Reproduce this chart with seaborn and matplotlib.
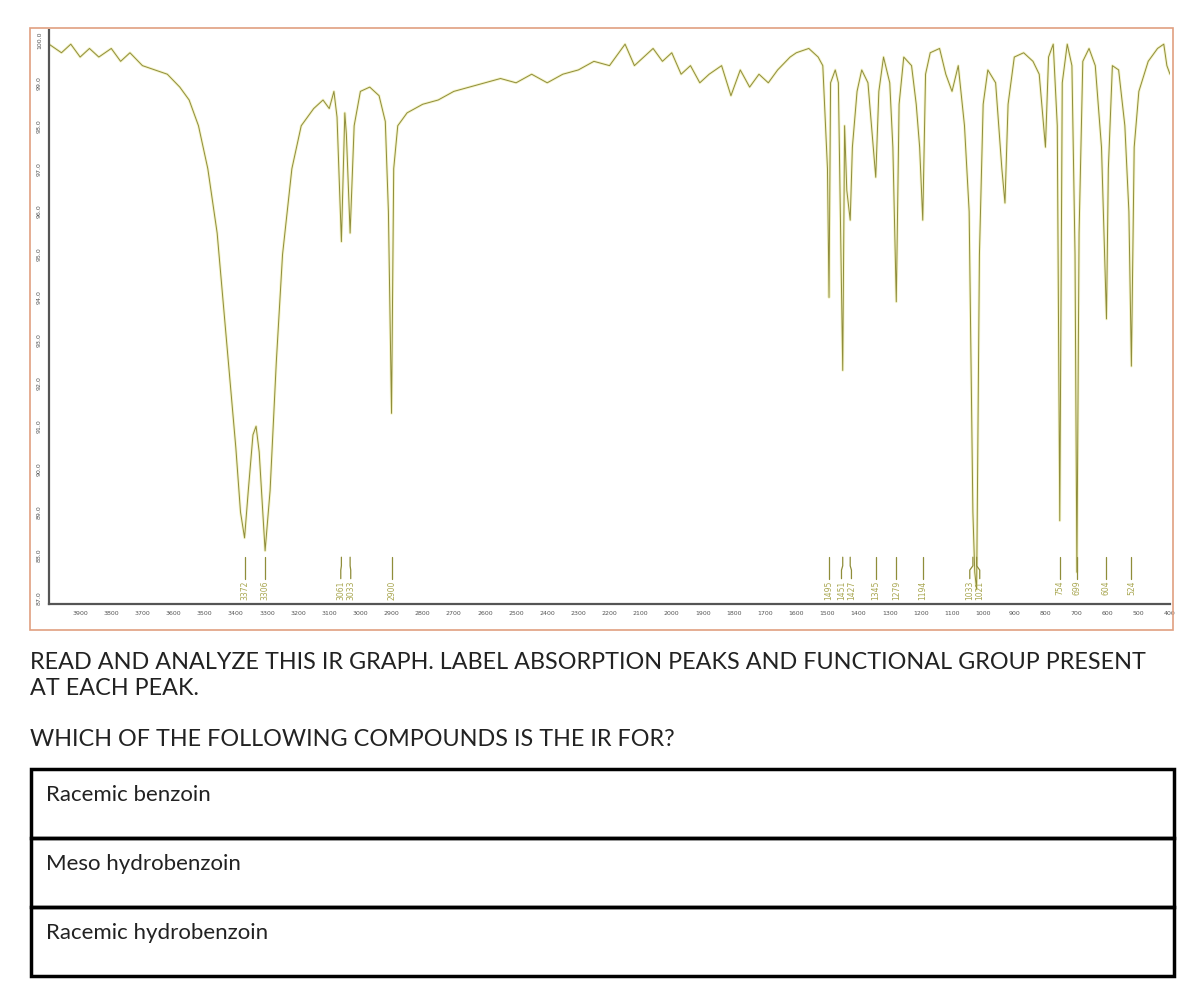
import numpy as np
import pandas as pd
import matplotlib
matplotlib.use("Agg")
import matplotlib.pyplot as plt
import seaborn as sns
from matplotlib.patches import Rectangle

# spectrum: wavenumber (cm-1) and %T
wavenumber = [4000, 3960, 3930, 3900, 3870, 3840, 3800, 3770, 3740, 3700, 3660, 3620, 3580, 3550, 3520,
              3490, 3460, 3430, 3400, 3385, 3372, 3360, 3345, 3335, 3325, 3306, 3290, 3270, 3250, 3220,
              3190, 3150, 3120, 3100, 3085, 3075, 3061, 3050, 3045, 3033, 3020, 3000, 2970, 2940, 2920,
              2910, 2900, 2893, 2880, 2850, 2800, 2750, 2700, 2650, 2600, 2550, 2500, 2450, 2400, 2350,
              2300, 2250, 2200, 2150, 2120, 2090, 2060, 2030, 2000, 1970, 1940, 1910, 1880, 1840, 1810,
              1780, 1750, 1720, 1690, 1660, 1620, 1600, 1560, 1530, 1515, 1500, 1495, 1490, 1475, 1465,
              1451, 1445, 1438, 1427, 1420, 1405, 1390, 1370, 1345, 1335, 1320, 1300, 1290, 1279, 1270,
              1255, 1230, 1215, 1204, 1194, 1185, 1170, 1140, 1120, 1100, 1080, 1060, 1045, 1033, 1027,
              1021, 1012, 1000, 985, 960, 940, 930, 920, 900, 870, 840, 820, 800, 790, 775,
              762, 754, 746, 730, 715, 705, 699, 692, 680, 660, 640, 620, 610, 604, 598,
              585, 565, 545, 532, 524, 515, 500, 470, 440, 420, 410, 400]
transmittance = [99.9, 99.7, 99.9, 99.6, 99.8, 99.6, 99.8, 99.5, 99.7, 99.4, 99.3, 99.2, 98.9, 98.6, 98.0,
                 97.0, 95.5, 93.0, 90.5, 89.0, 88.4, 89.5, 90.8, 91.0, 90.4, 88.1, 89.5, 92.5, 95.0, 97.0,
                 98.0, 98.4, 98.6, 98.4, 98.8, 98.2, 95.3, 98.3, 97.8, 95.5, 98.0, 98.8, 98.9, 98.7, 98.1,
                 96.0, 91.3, 97.0, 98.0, 98.3, 98.5, 98.6, 98.8, 98.9, 99.0, 99.1, 99.0, 99.2, 99.0, 99.2,
                 99.3, 99.5, 99.4, 99.9, 99.4, 99.6, 99.8, 99.5, 99.7, 99.2, 99.4, 99.0, 99.2, 99.4, 98.7,
                 99.3, 98.9, 99.2, 99.0, 99.3, 99.6, 99.7, 99.8, 99.6, 99.4, 97.0, 94.0, 99.0, 99.3, 99.0,
                 92.3, 98.0, 96.5, 95.8, 97.5, 98.8, 99.3, 99.0, 96.8, 98.8, 99.6, 99.0, 97.5, 93.9, 98.5,
                 99.6, 99.4, 98.5, 97.5, 95.8, 99.2, 99.7, 99.8, 99.2, 98.8, 99.4, 98.0, 96.0, 89.0, 87.6,
                 87.2, 95.0, 98.5, 99.3, 99.0, 97.0, 96.2, 98.5, 99.6, 99.7, 99.5, 99.2, 97.5, 99.6, 99.9,
                 98.0, 88.8, 99.0, 99.9, 99.4, 95.0, 87.6, 95.5, 99.5, 99.8, 99.4, 97.5, 95.0, 93.5, 97.0,
                 99.4, 99.3, 98.0, 96.0, 92.4, 97.5, 98.8, 99.5, 99.8, 99.9, 99.4, 99.2]

peak_positions = [3372, 3306, 3061, 3033, 2900, 1495, 1451, 1427, 1345, 1279, 1194, 1033, 1021, 754, 699, 604, 524]
peak_labels = ["3372", "3306", "3061", "3033", "2900", "1495", "1451", "1427", "1345", "1279", "1194",
               "1033", "1021", "754", "699", "604", "524"]

x_ticks = list(range(3900, 399, -100))
y_ticks = [87.0 + i for i in range(14)]

choices = ["Racemic benzoin", "Meso hydrobenzoin", "Racemic hydrobenzoin"]
question_1 = "READ AND ANALYZE THIS IR GRAPH. LABEL ABSORPTION PEAKS AND FUNCTIONAL GROUP PRESENT\nAT EACH PEAK."
question_2 = "WHICH OF THE FOLLOWING COMPOUNDS IS THE IR FOR?"

sns.set_style("white")
plt.rcParams["font.family"] = ["Lato", "DejaVu Sans"]

W, H = 1198, 988
fig = plt.figure(figsize=(W / 100, H / 100), dpi=100)

def fx(px):
    return px / W

def fy(py):
    return 1 - py / H

ax = fig.add_axes([fx(49), fy(604), fx(1170 - 49), (604 - 30) / H])
df = pd.DataFrame({"wn": wavenumber, "T": transmittance})
# pale halo under the trace, like the scanned spectrum
sns.lineplot(data=df, x="wn", y="T", sort=False, color="#f4f3c8", linewidth=2.0, ax=ax)
sns.lineplot(data=df, x="wn", y="T", sort=False, color="#8f8d3a", linewidth=0.7, ax=ax)
ax.set_xlim(4000, 400)
ax.set_ylim(86.86, 100.23)
ax.set_xlabel("")
ax.set_ylabel("")
ax.set_xticks(x_ticks)
ax.set_xticklabels([str(t) for t in x_ticks], fontsize=4.5, color="#555555", family="DejaVu Sans")
ax.set_yticks(y_ticks)
ax.set_yticklabels([f"{t:.1f}" for t in y_ticks], fontsize=4.5, color="#555555", rotation=90,
                   va="center", family="DejaVu Sans")
ax.tick_params(axis="both", length=3, width=0.8, pad=2, direction="out", color="#333333")
for side in ["top", "right"]:
    ax.spines[side].set_visible(False)
for side in ["left", "bottom"]:
    ax.spines[side].set_color("#555555")
    ax.spines[side].set_linewidth(1.6)

# peak markers; labels of close pairs are spread apart with a small bent leader
min_gap = 32
text_x = list(peak_positions)
for i in range(1, len(text_x)):
    if text_x[i - 1] - text_x[i] < min_gap:
        mid = (text_x[i - 1] + text_x[i]) / 2
        text_x[i - 1] = mid + min_gap / 2
        text_x[i] = mid - min_gap / 2
for pos, tx, lab in zip(peak_positions, text_x, peak_labels):
    ax.plot([pos, pos, tx, tx], [87.95, 87.75, 87.65, 87.45], color="#8f8d3a", linewidth=0.9)
    ax.text(tx, 87.4, lab, rotation=90, ha="center", va="top", fontsize=5.5,
            color="#a8a650", family="DejaVu Sans")

# orange frame around the chart image
fig.add_artist(Rectangle((fx(30), fy(630)), fx(1173 - 30), (630 - 28) / H, transform=fig.transFigure,
                         fill=False, edgecolor="#e0a080", linewidth=1.2))

fig.text(fx(30), fy(652), question_1, fontsize=16.8, color="#222222", va="top", linespacing=1.3)
fig.text(fx(30), fy(729), question_2, fontsize=16.8, color="#222222", va="top")

box_tops = [769, 838, 907]
box_h = 69
for top, label in zip(box_tops, choices):
    fig.add_artist(Rectangle((fx(31), fy(top + box_h)), fx(1174 - 31), box_h / H,
                             transform=fig.transFigure, fill=False, edgecolor="black", linewidth=2.5))
    fig.text(fx(46), fy(top + 26), label, fontsize=16, color="#222222", va="center")

fig.savefig("out.png", dpi=100)
